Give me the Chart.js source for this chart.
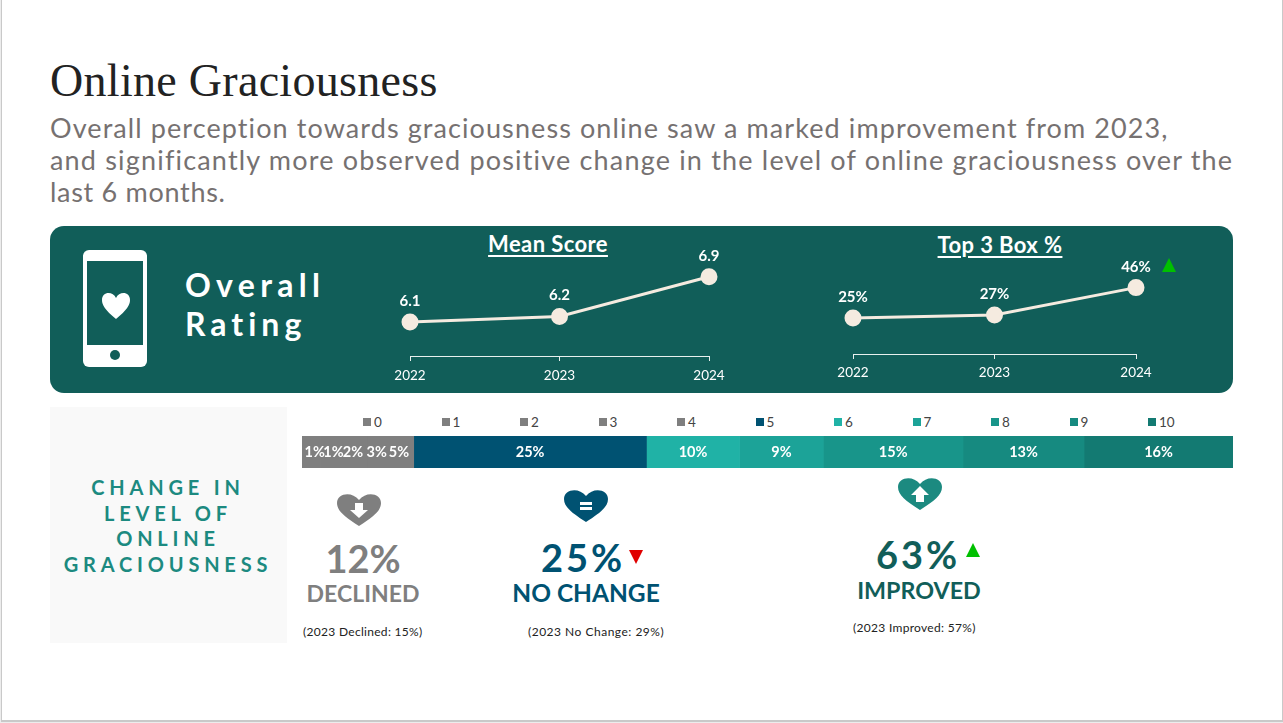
<!DOCTYPE html>
<html>
<head>
<meta charset="utf-8">
<title>Online Graciousness</title>
<script src="https://cdn.jsdelivr.net/npm/chart.js@4"></script>
<style>
    html, body { margin: 0; padding: 0; background: #fff; }
    #slide { position: relative; width: 1283px; height: 723px; overflow: hidden; background: #ececec; font-family: Lato, sans-serif; }
    #edge { position: absolute; left: 1px; top: -2px; width: 1282px; height: 724px; box-sizing: border-box; background: #fff; border: 1px solid #c9c9c9; border-bottom-width: 2px; }
    .t { position: absolute; white-space: nowrap; }
    .c { transform: translateX(-50%); text-align: center; }
    canvas { position: absolute; }
    #panel { position: absolute; left: 50px; top: 226px; width: 1183px; height: 167px; background: #115e59; border-radius: 14px; }
    #side { position: absolute; left: 50px; top: 407px; width: 237px; height: 236px; background: #f9f9f9; }
    .sub { left: 50px; font-size: 27px; color: #767171; font-family: Lato, sans-serif; }
    .head { color: #fff; font-weight: 700; font-size: 22px; letter-spacing: 0.4px; text-decoration: underline; text-underline-offset: 3px; }
    .side { left: 168px; color: #1c8a80; font-weight: 700; font-size: 20px; letter-spacing: 4.8px; }
    .big { font-weight: 700; font-size: 38px; }
    .lab { font-weight: 700; }
    .note { font-size: 12px; color: #222; letter-spacing: 0.3px; }
    .up { position: absolute; width: 0; height: 0; border-left: 7.5px solid transparent; border-right: 7.5px solid transparent; border-bottom: 14px solid #00c000; }
    .down { position: absolute; width: 0; height: 0; border-left: 7px solid transparent; border-right: 7px solid transparent; border-top: 14px solid #e00000; }
    #legend { position: absolute; left: 353px; top: 414px; display: flex; font-size: 13.5px; color: #444; }
    #legend div { width: 78.5px; display: flex; align-items: center; height: 16px; padding-left: 10px; box-sizing: border-box; }
    #legend i { width: 8px; height: 8px; margin-right: 3px; display: block; }
    svg { position: absolute; }
</style>
</head>
<body>
<div id="slide">
    <div id="edge"></div>
    <div class="t" style="left:50px;top:54px;font-family:'Liberation Serif',serif;font-size:46px;letter-spacing:0.3px;color:#222;">Online Graciousness</div>
    <div class="t sub" style="top:111px;letter-spacing:1.09px;">Overall perception towards graciousness online saw a marked improvement from 2023,</div>
    <div class="t sub" style="top:143px;letter-spacing:1.18px;">and significantly more observed positive change in the level of online graciousness over the</div>
    <div class="t sub" style="top:175px;letter-spacing:0.7px;">last 6 months.</div>

    <div id="panel"></div>
    <svg style="left:83px;top:250px;" width="64" height="117" viewBox="0 0 64 117">
        <rect width="64" height="117" rx="6" fill="#fff"/>
        <rect x="4" y="11" width="56" height="84" fill="#115e59"/>
        <circle cx="32" cy="105" r="5" fill="#115e59"/>
        <path d="M33 69 C22 60 19 55 19 50 C19 41 30 41 33 48 C36 41 47 41 47 50 C47 55 44 60 33 69Z" fill="#fff"/>
    </svg>
    <div class="t" style="left:185px;top:265px;color:#fff;font-weight:700;font-size:32px;letter-spacing:5.3px;">Overall</div>
    <div class="t" style="left:185px;top:304px;color:#fff;font-weight:700;font-size:32px;letter-spacing:5px;">Rating</div>
    <div class="t c head" style="left:548px;top:230px;">Mean Score</div>
    <div class="t c head" style="left:1000px;top:231px;">Top 3 Box %</div>
    <div class="up" style="left:1162px;top:258px;"></div>

    <canvas id="meanChart" style="left:360px;top:240px;" width="400" height="150"></canvas>
    <canvas id="boxChart" style="left:800px;top:240px;" width="390" height="150"></canvas>

    <div id="side"></div>
    <div class="t c side" style="top:475px;">CHANGE IN</div>
    <div class="t c side" style="top:501px;">LEVEL OF</div>
    <div class="t c side" style="top:526px;">ONLINE</div>
    <div class="t c side" style="top:552px;">GRACIOUSNESS</div>

    <div id="legend"></div>
    <canvas id="scaleChart" style="left:302px;top:436px;" width="931" height="32"></canvas>

    <svg style="left:337px;top:494px;" width="44" height="32" viewBox="0 0 44 32">
        <path d="M22 32 C8 23 0 17 0 9 C0 -1 15 -3 22 6 C29 -3 44 -1 44 9 C44 17 36 23 22 32Z" fill="#7f7f7f"/>
        <path d="M18 9 H26 V16 H31 L22 24 L13 16 H18Z" fill="#fff"/>
    </svg>
    <div class="t c big" style="left:363px;top:535px;color:#7f7f7f;">12%</div>
    <div class="t c lab" style="left:363px;top:579px;font-size:23px;color:#7f7f7f;">DECLINED</div>
    <div class="t note" style="left:303px;top:624px;">(2023 Declined: 15%)</div>

    <svg style="left:564px;top:490px;" width="44" height="32" viewBox="0 0 44 32">
        <path d="M22 32 C8 23 0 17 0 9 C0 -1 15 -3 22 6 C29 -3 44 -1 44 9 C44 17 36 23 22 32Z" fill="#005272"/>
        <rect x="16" y="12" width="12" height="3" fill="#fff"/>
        <rect x="16" y="17" width="12" height="3" fill="#fff"/>
    </svg>
    <div class="t c big" style="left:583px;top:534px;color:#005272;letter-spacing:3px;">25%</div>
    <div class="down" style="left:629px;top:550px;"></div>
    <div class="t c lab" style="left:586px;top:578px;font-size:24.5px;color:#005272;">NO CHANGE</div>
    <div class="t note" style="left:528px;top:624px;letter-spacing:0.5px;">(2023 No Change: 29%)</div>

    <svg style="left:898px;top:478px;" width="44" height="32" viewBox="0 0 44 32">
        <path d="M22 32 C8 23 0 17 0 9 C0 -1 15 -3 22 6 C29 -3 44 -1 44 9 C44 17 36 23 22 32Z" fill="#1c8a80"/>
        <path d="M18 24 H26 V17 H31 L22 8 L13 17 H18Z" fill="#fff"/>
    </svg>
    <div class="t c big" style="left:918px;top:531px;color:#115e59;letter-spacing:3px;">63%</div>
    <div class="up" style="left:966px;top:543px;"></div>
    <div class="t c lab" style="left:919px;top:576px;font-size:23.3px;color:#115e59;">IMPROVED</div>
    <div class="t note" style="left:853px;top:620px;">(2023 Improved: 57%)</div>
</div>

<script>
const years = ['2022', '2023', '2024'];
const meanScores = [6.1, 6.2, 6.9];
const top3Box = [25, 27, 46];
const scalePoints = ['0', '1', '2', '3', '4', '5', '6', '7', '8', '9', '10'];
const scaleShares = [1, 1, 2, 3, 5, 25, 10, 9, 15, 13, 16];
const scaleColors = ['#7f7f7f', '#7f7f7f', '#7f7f7f', '#7f7f7f', '#7f7f7f', '#005272', '#20b2a6', '#1ca398', '#18958a', '#168a80', '#137a72'];

// the small grey labels are spread out by hand in the original, they dont fit their own segment
const labelShift = [8, 17.5, 23, 23.5, 8.5, 0, 0, 0, 0, 0, 0];

const cream = '#f5ebe0';

// draws the value above each point
const pointLabels = {
    id: 'pointLabels',
    afterDatasetsDraw(chart) {
        const ctx = chart.ctx;
        const meta = chart.getDatasetMeta(0);
        ctx.save();
        ctx.fillStyle = '#fff';
        ctx.font = '700 15px Lato';
        ctx.textAlign = 'center';
        meta.data.forEach((pt, i) => {
            let v = chart.data.datasets[0].data[i];
            let txt = chart.options.plugins.pointLabels.percent ? v + '%' : v.toFixed(1);
            ctx.fillText(txt, pt.x, pt.y - 16);
        });
        ctx.restore();
    }
};

function lineChart(id, values, yMin, yMax, left, right, axisHeight, tickPad, percent) {
    return new Chart(document.getElementById(id), {
        type: 'line',
        data: {
            labels: years,
            datasets: [{
                data: values,
                borderColor: cream,
                borderWidth: 3,
                pointBackgroundColor: cream,
                pointBorderColor: cream,
                pointRadius: 7,
                tension: 0
            }]
        },
        options: {
            responsive: false,
            animation: false,
            layout: { autoPadding: false, padding: { left: left, right: right } },
            plugins: {
                legend: { display: false },
                tooltip: { enabled: false },
                pointLabels: { percent: percent }
            },
            scales: {
                y: { display: false, min: yMin, max: yMax },
                x: {
                    afterFit(axis) { axis.height = axisHeight; },
                    border: { color: '#e8f0ee', width: 1 },
                    grid: { drawOnChartArea: false, color: '#e8f0ee', tickLength: 5 },
                    ticks: { color: '#fff', font: { family: 'Lato', size: 13.5 }, padding: tickPad, maxRotation: 0 }
                }
            }
        },
        plugins: [pointLabels]
    });
}

lineChart('meanChart', meanScores, 5.5, 7.55, 50, 51, 34, 7, false);
lineChart('boxChart', top3Box, 0, 79, 53, 54, 36, 6, true);

function initLegend() {
    let box = document.getElementById('legend');
    scalePoints.forEach((p, i) => {
        let item = document.createElement('div');
        item.innerHTML = `<i style="background:${scaleColors[i]}"></i>${p}`;
        box.appendChild(item);
    });
}
initLegend();

new Chart(document.getElementById('scaleChart'), {
    type: 'bar',
    data: {
        labels: ['Change'],
        datasets: scalePoints.map((p, i) => ({
            label: p,
            data: [scaleShares[i]],
            backgroundColor: scaleColors[i],
            borderWidth: 0,
            barPercentage: 1,
            categoryPercentage: 1
        }))
    },
    options: {
        indexAxis: 'y',
        responsive: false,
        animation: false,
        plugins: { legend: { display: false }, tooltip: { enabled: false } },
        scales: {
            x: { display: false, stacked: true, min: 0, max: 100 },
            y: { display: false, stacked: true }
        }
    },
    plugins: [{
        id: 'segmentLabels',
        afterDatasetsDraw(chart) {
            const ctx = chart.ctx;
            ctx.save();
            ctx.fillStyle = '#fff';
            ctx.font = '700 14.5px Lato';
            ctx.textAlign = 'center';
            ctx.textBaseline = 'middle';
            chart.data.datasets.forEach((ds, i) => {
                let bar = chart.getDatasetMeta(i).data[0];
                let mid = (bar.x + bar.base) / 2;
                ctx.fillText(ds.data[0] + '%', mid + labelShift[i], bar.y);
            });
            ctx.restore();
        }
    }]
});
</script>
</body>
</html>
